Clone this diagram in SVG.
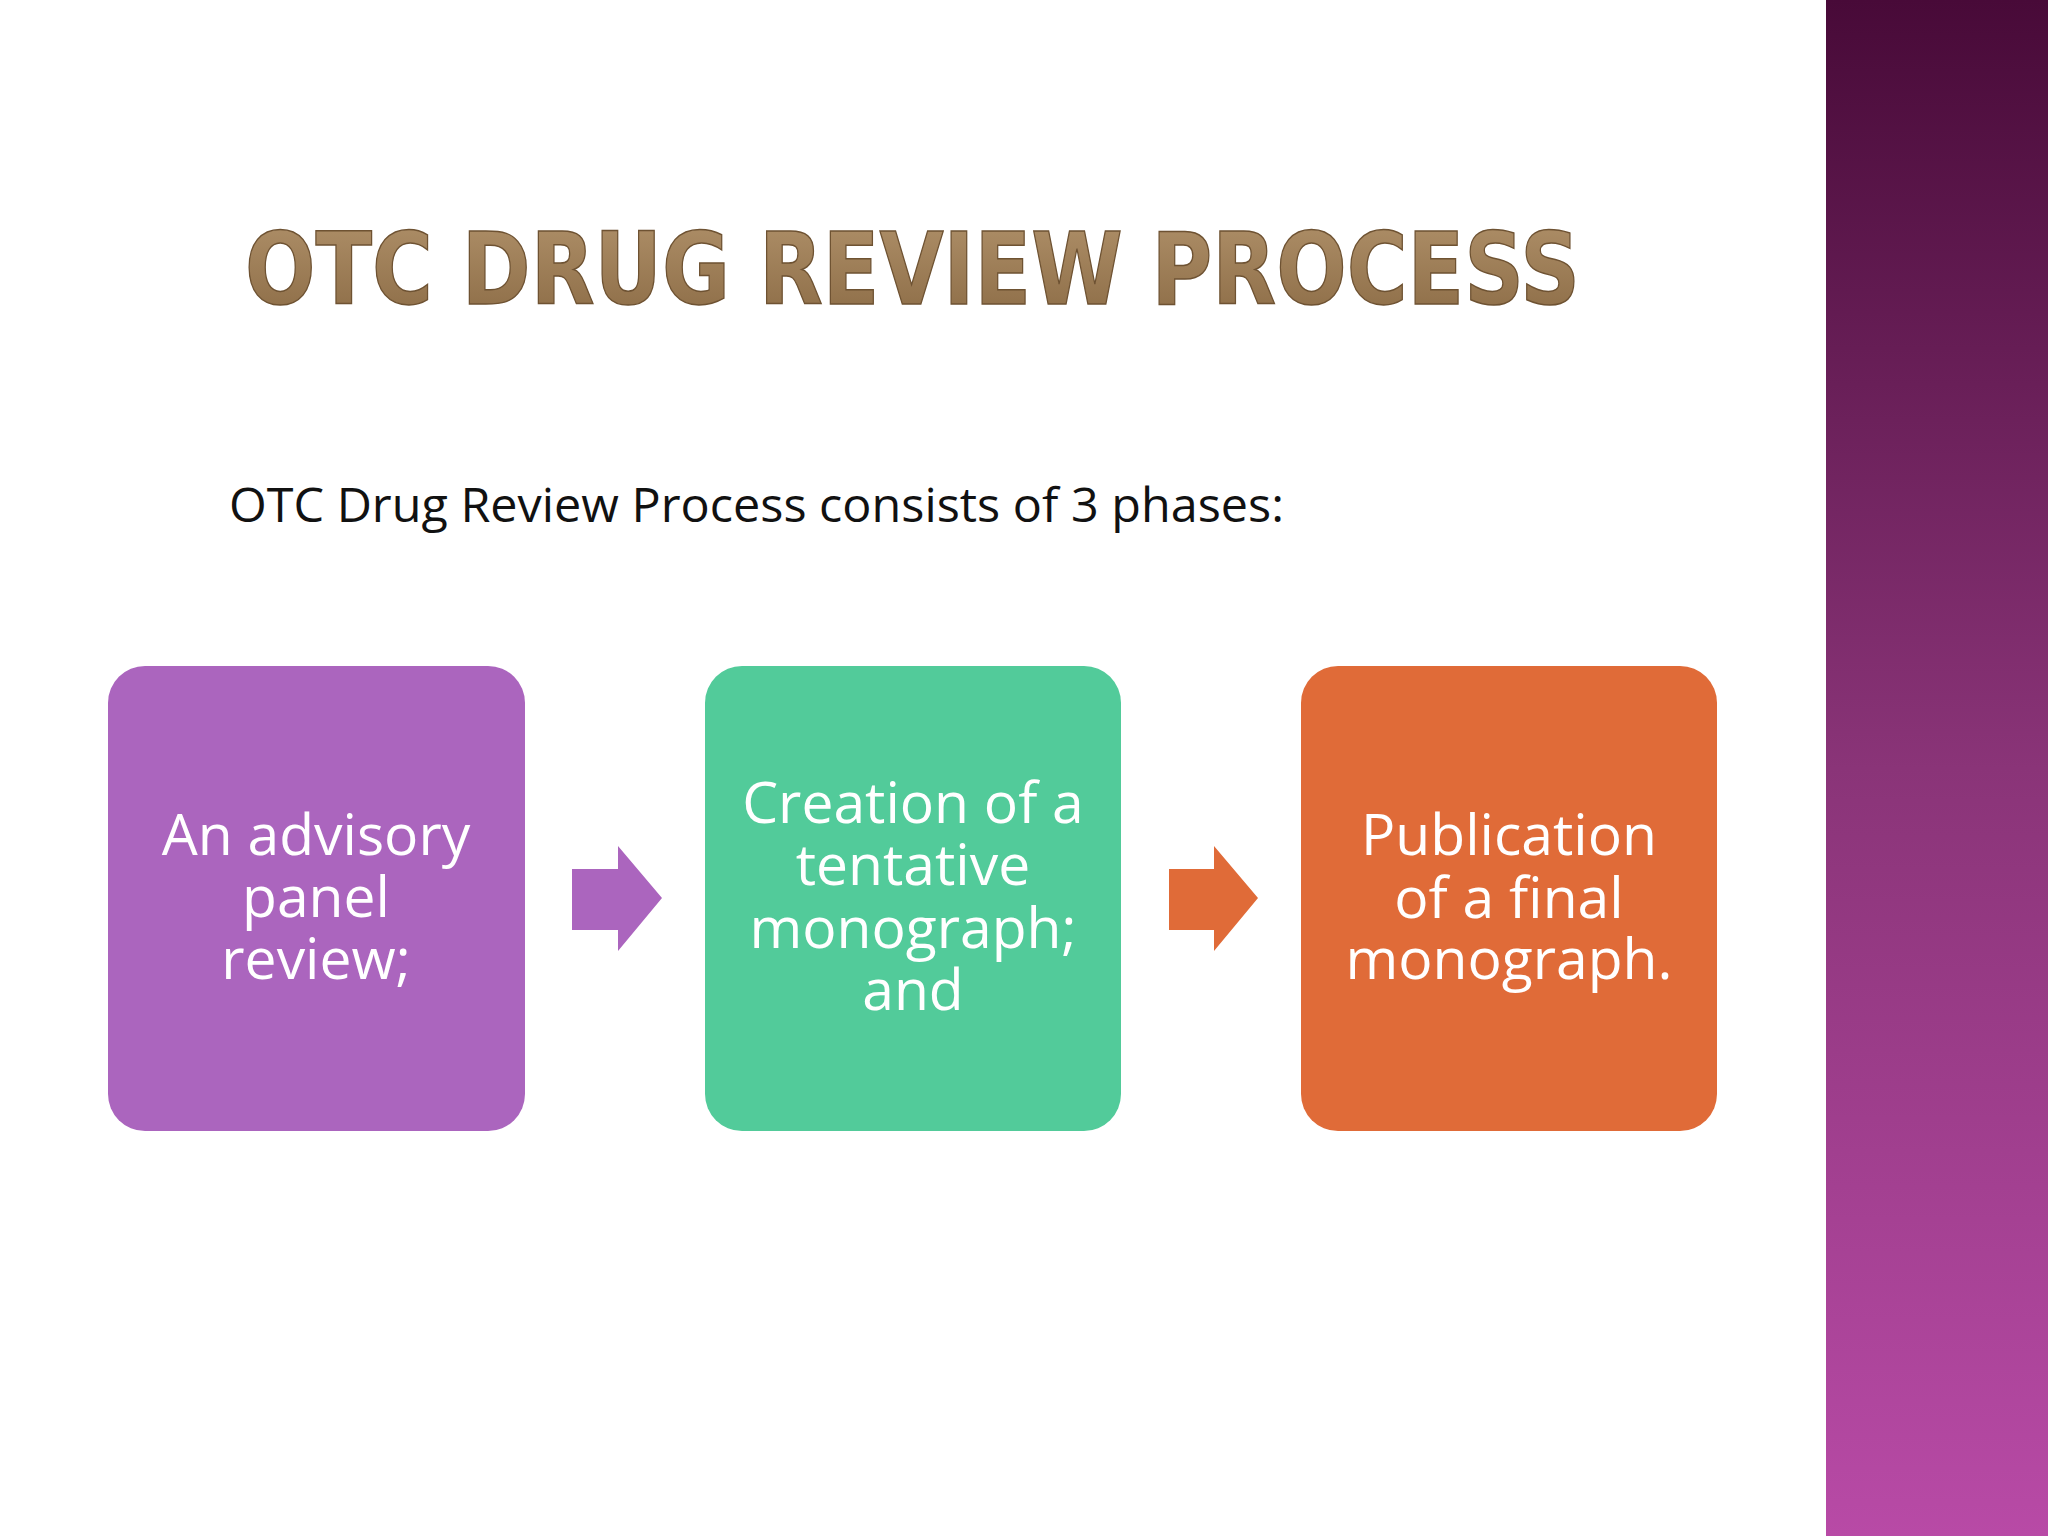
<svg xmlns="http://www.w3.org/2000/svg" width="2048" height="1536" viewBox="0 0 2048 1536">
<defs>
<linearGradient id="band" x1="0" y1="0" x2="0" y2="1">
<stop offset="0" stop-color="#480a38"/>
<stop offset="0.5" stop-color="#8a3478"/>
<stop offset="1" stop-color="#b84aa6"/>
</linearGradient>
<linearGradient id="gold" x1="0" y1="0" x2="0" y2="1">
<stop offset="0" stop-color="#b0916a"/>
<stop offset="1" stop-color="#8a6a44"/>
</linearGradient>
</defs>
<style>
.box text{font-family:"Open Sans","DejaVu Sans",sans-serif;font-size:57px;fill:#fff;text-anchor:middle}
</style>
<rect width="2048" height="1536" fill="#fff"/>
<rect x="1826" y="0" width="222" height="1536" fill="url(#band)"/>
<text x="245" y="304" font-family="DejaVu Sans, sans-serif" font-weight="bold" font-size="100" fill="url(#gold)" stroke="#6e5232" stroke-width="1.5" textLength="1335" lengthAdjust="spacingAndGlyphs">OTC DRUG REVIEW PROCESS</text>
<text x="229" y="522" font-family="Open Sans, DejaVu Sans, sans-serif" font-size="47" fill="#111" textLength="1055" lengthAdjust="spacingAndGlyphs">OTC Drug Review Process consists of 3 phases:</text>
<g id="n1" class="box">
<rect x="108" y="666" width="417" height="465" rx="37" fill="#ab65be"/>
<text x="316" y="855">An advisory</text><text x="316" y="917">panel</text><text x="316" y="979">review;</text>
</g>
<g id="n2" class="box">
<rect x="705" y="666" width="416" height="465" rx="37" fill="#52cb9a"/>
<text x="913" y="823">Creation of a</text><text x="913" y="885">tentative</text><text x="913" y="948">monograph;</text><text x="913" y="1010">and</text>
</g>
<g id="n3" class="box">
<rect x="1301" y="666" width="416" height="465" rx="37" fill="#e06b38"/>
<text x="1509" y="855">Publication</text><text x="1509" y="918">of a final</text><text x="1509" y="979">monograph.</text>
</g>
<g id="connectors">
<polygon points="572,869 618,869 618,846 662,898 618,951 618,930 572,930" fill="#ab65be"/>
<polygon points="1169,869 1214,869 1214,846 1258,898 1214,951 1214,930 1169,930" fill="#e06b38"/>
</g>
</svg>
